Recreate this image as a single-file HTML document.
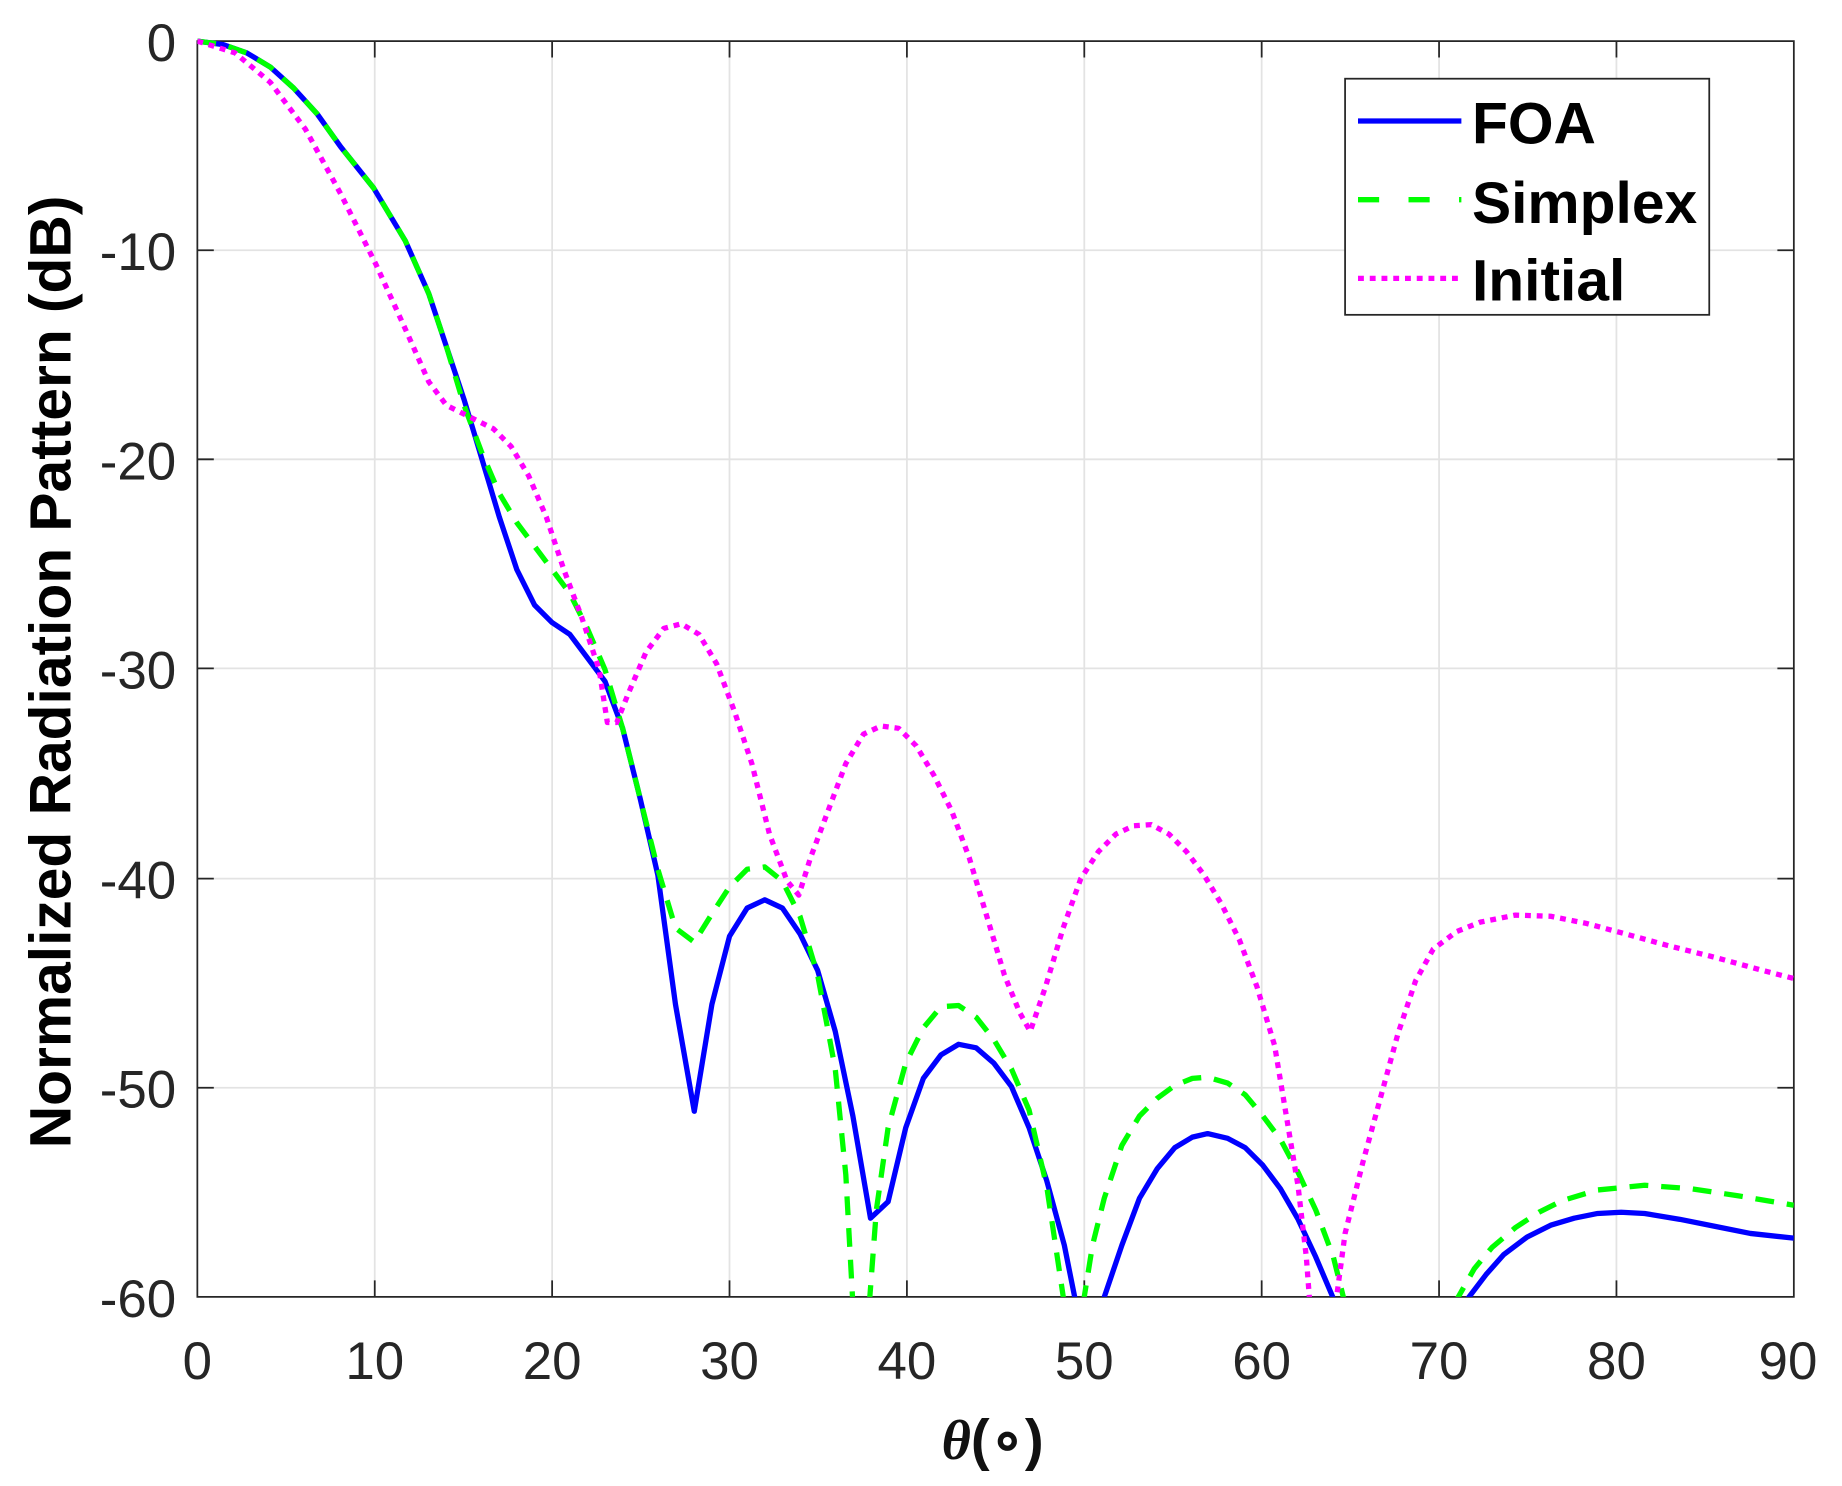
<!DOCTYPE html>
<html><head><meta charset="utf-8"><style>html,body{margin:0;padding:0;background:#fff}svg{display:block}</style></head><body>
<svg width="1842" height="1486" viewBox="0 0 1568 1265" preserveAspectRatio="none" xmlns="http://www.w3.org/2000/svg" font-family="Liberation Sans, sans-serif">
<rect width="1568" height="1265" fill="#fff"/>
<g stroke="#e3e3e3" stroke-width="1.5">
<line x1="319" y1="35" x2="319" y2="1104"/><line x1="470" y1="35" x2="470" y2="1104"/><line x1="621" y1="35" x2="621" y2="1104"/><line x1="772" y1="35" x2="772" y2="1104"/><line x1="923" y1="35" x2="923" y2="1104"/><line x1="1074" y1="35" x2="1074" y2="1104"/><line x1="1225" y1="35" x2="1225" y2="1104"/><line x1="1376" y1="35" x2="1376" y2="1104"/>
<line x1="168" y1="213" x2="1527" y2="213"/><line x1="168" y1="391" x2="1527" y2="391"/><line x1="168" y1="569" x2="1527" y2="569"/><line x1="168" y1="748" x2="1527" y2="748"/><line x1="168" y1="926" x2="1527" y2="926"/>
</g>
<g stroke="#262626" stroke-width="1.5">
<path d="M319 1104v-14M470 1104v-14M621 1104v-14M772 1104v-14M923 1104v-14M1074 1104v-14M1225 1104v-14M1376 1104v-14M319 35v14M470 35v14M621 35v14M772 35v14M923 35v14M1074 35v14M1225 35v14M1376 35v14"/>
<path d="M168 213h14M168 391h14M168 569h14M168 748h14M168 926h14M1527 213h-14M1527 391h-14M1527 569h-14M1527 748h-14M1527 926h-14"/>
<rect x="168" y="35" width="1359" height="1069" fill="none"/>
</g>
<defs><clipPath id="c"><rect x="168" y="30" width="1359" height="1074"/></clipPath></defs>
<g clip-path="url(#c)" fill="none" stroke-width="4.5" stroke-linejoin="round">
<polyline stroke="#0000ff" points="168,35 190,38 210,45 230,57 250,75 270,97 290,125 318,160 345,205 365,250 380,295 395,340 410,390 425,440 440,485 455,515 470,530 485,540 500,560 515,580 530,620 545,680 560,745 575,855 591,946 606,855 621,797 636,773 651,766 666,773 681,795 696,826 711,878 726,950 741,1037 756,1023 771,960 786,918 801,898 816,889 831,892 846,905 861,925 876,960 891,1005 906,1060 916,1110"/>
<polyline stroke="#0000ff" points="938,1110 955,1060 970,1020 985,995 1000,977 1015,968 1028,965 1045,969 1060,977 1075,992 1090,1012 1105,1038 1120,1070 1137,1110"/>
<polyline stroke="#0000ff" points="1246,1110 1265,1085 1280,1068 1300,1053 1320,1043 1340,1037 1360,1033 1380,1032 1400,1033 1430,1038 1460,1044 1490,1050 1527,1054"/>
<polyline stroke="#00ff00" stroke-dasharray="16 11" points="168,35 190,38 210,45 230,57 250,75 270,97 290,125 318,160 345,205 365,250 380,295 395,345 410,385 425,420 440,445 455,465 470,485 485,505 500,535 515,570 530,620 545,680 560,740 575,790 591,802 606,778 621,755 636,740 651,738 666,750 681,780 696,830 711,910 720,1000 726,1110"/>
<polyline stroke="#00ff00" stroke-dasharray="16 11" points="740,1110 746,1030 756,960 771,905 786,875 801,857 816,856 831,866 846,885 861,910 876,945 891,1010 906,1110"/>
<polyline stroke="#00ff00" stroke-dasharray="16 11" points="922,1110 930,1060 940,1020 955,975 970,950 985,935 1000,924 1015,918 1028,917 1045,922 1060,932 1075,950 1090,970 1105,998 1120,1030 1135,1070 1145,1110"/>
<polyline stroke="#00ff00" stroke-dasharray="16 11" points="1238,1110 1255,1080 1270,1062 1290,1045 1310,1032 1330,1022 1360,1013 1400,1009 1440,1012 1480,1018 1527,1026"/>
<polyline stroke="#ff00ff" stroke-dasharray="5 5" points="168,35 200,45 230,70 260,110 290,165 320,225 345,280 365,325 380,345 400,355 420,365 435,380 450,405 465,440 480,485 495,525 510,570 517,615 525,615 535,590 550,555 565,535 580,531 595,540 610,565 625,605 640,650 655,710 670,750 680,762 690,730 705,690 720,650 735,625 750,618 765,620 780,635 795,660 810,690 825,730 840,780 855,830 868,862 877,878 890,840 905,790 920,748 935,725 950,710 965,703 980,702 995,710 1010,725 1025,745 1040,770 1055,800 1070,840 1085,890 1095,950 1105,1010 1112,1070 1115,1110"/>
<polyline stroke="#ff00ff" stroke-dasharray="5 5" points="1137,1110 1145,1050 1160,990 1175,935 1190,880 1205,835 1220,808 1240,793 1260,785 1290,779 1320,780 1350,786 1380,794 1420,805 1460,815 1500,826 1527,833"/>
</g>
<g fill="#262626" font-size="45" text-anchor="end">
<text x="150" y="52">0</text><text x="150" y="230">-10</text><text x="150" y="408">-20</text><text x="150" y="586">-30</text><text x="150" y="765">-40</text><text x="150" y="943">-50</text><text x="150" y="1121">-60</text>
</g>
<g fill="#262626" font-size="45" text-anchor="middle">
<text x="168" y="1174">0</text><text x="319" y="1174">10</text><text x="470" y="1174">20</text><text x="621" y="1174">30</text><text x="772" y="1174">40</text><text x="923" y="1174">50</text><text x="1074" y="1174">60</text><text x="1225" y="1174">70</text><text x="1376" y="1174">80</text><text x="1522" y="1174">90</text>
</g>
<text x="845" y="1242" font-size="48" font-weight="bold" text-anchor="middle" fill="#111"><tspan font-style="italic" font-family="Liberation Serif, serif">θ</tspan>(∘)</text>
<text transform="translate(60,572) rotate(-90)" font-size="50" font-weight="bold" text-anchor="middle" fill="#000">Normalized Radiation Pattern (dB)</text>
<rect x="1145" y="67" width="310" height="201" fill="#fff" stroke="#262626" stroke-width="1.5"/>
<g stroke-width="4.5">
<line x1="1156" y1="103" x2="1244" y2="103" stroke="#0000ff"/>
<line x1="1156" y1="170" x2="1244" y2="170" stroke="#00ff00" stroke-dasharray="18 25"/>
<line x1="1156" y1="237" x2="1244" y2="237" stroke="#ff00ff" stroke-dasharray="5 5"/>
</g>
<g font-size="50" font-weight="bold" fill="#000">
<text x="1253" y="122">FOA</text><text x="1253" y="190">Simplex</text><text x="1253" y="256">Initial</text>
</g>
</svg>
</body></html>
